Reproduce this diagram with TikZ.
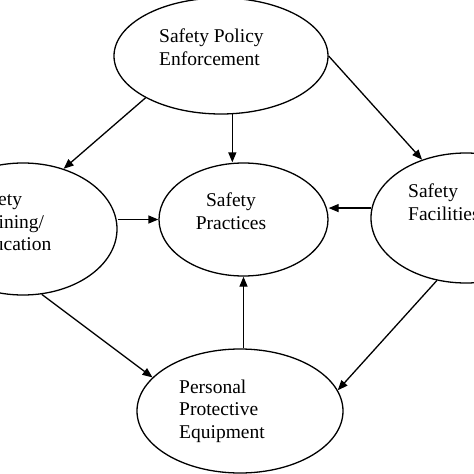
\documentclass[tikz,border=0pt]{standalone}
\usepackage{fontspec}
\setmainfont{Liberation Serif}
\usepackage{tikz}
\usetikzlibrary{shapes.geometric, arrows.meta, positioning}

\tikzset{
    bubble/.style={ellipse, draw, line width=1.3pt, inner sep=0pt},
    caption/.style={anchor=north west, inner sep=0pt, align=left, font=\fontsize{19.5}{22.5}\selectfont},
    link/.style={->, line width=1.3pt}
}

\begin{document}
\begin{tikzpicture}[x=1pt, y=-1pt, >={Triangle[length=10pt,width=8pt]}]
    \useasboundingbox (0,0) rectangle (474,474);

    % The Ellipses
    \node[bubble, minimum width=214pt, minimum height=116pt] (policy) at (221,56) {};
    \node[bubble, minimum width=169pt, minimum height=113pt] (practices) at (243.5,219.5) {};
    \node[bubble, minimum width=188pt, minimum height=132pt] (training) at (23,229) {};
    \node[bubble, minimum width=190pt, minimum height=130pt] (facilities) at (466,218) {};
    \node[bubble, minimum width=206pt, minimum height=124pt] (equipment) at (240,411) {};

    % The Labels
    \node[caption] (policytxt) at (159,28.7) {Safety Policy\\Enforcement};
    \node[caption, anchor=north, align=center] (practicestxt) at (231,192.7) {Safety\\Practices};
    \node[caption] (trainingtxt) at (-28,191.7) {Safety\\Training/\\Education};
    \node[caption] (facilitiestxt) at (408,183.7) {Safety\\Facilities};
    \node[caption] (equipmenttxt) at (179,379.7) {Personal\\Protective\\Equipment};

    % The Arrows
    \draw[link] (policy.209) -- (training.56);
    \draw[link] (policy.281) -- (policy.281 |- practices.north);
    \draw[link] (policy.east) -- (facilities.127);
    \draw[link] (training.east |- practices.west) -- (practices.west);
    \draw[link] (facilities.174) -- (facilities.174 -| practices.east);
    \draw[link] (training.-74) -- (equipment.159);
    \draw[link] (facilities.245) -- (equipment.12);
    \draw[link] (practices.south |- equipment.north) -- (practices.south);
\end{tikzpicture}
\end{document}
